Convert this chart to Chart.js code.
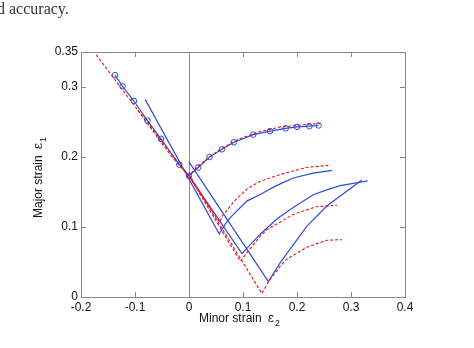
<!DOCTYPE html>
<html>
<head>
<meta charset="utf-8">
<script src="https://cdn.jsdelivr.net/npm/chart.js@4.4.0/dist/chart.umd.min.js"></script>
<style>
body { margin: 0; background: #fff; }
#wrap { position: relative; width: 474px; height: 348px; overflow: hidden; }
#cap { position: absolute; left: -3px; top: 0px; font-family: "Liberation Serif", "DejaVu Serif", serif; font-size: 16px; color: #333; }
</style>
</head>
<body>
<div id="wrap">
  <canvas id="myChart" width="474" height="348"></canvas>
  <div id="cap">d accuracy.</div>
</div>
<script>
// tick labels
var xTicks = [-0.2, -0.1, 0, 0.1, 0.2, 0.3, 0.4];
var yTicks = [0, 0.1, 0.2, 0.3, 0.35];

// measured path with circle markers (blue)
var markX = [-0.137, -0.123, -0.102, -0.077, -0.052, -0.018, 0.0, 0.017, 0.038, 0.061, 0.083, 0.119, 0.150, 0.179, 0.200, 0.223, 0.240];
var markY = [0.317, 0.301, 0.280, 0.252, 0.226, 0.189, 0.173, 0.185, 0.200, 0.211, 0.221, 0.232, 0.237, 0.241, 0.243, 0.244, 0.245];

// blue paths
var blue1X = [-0.081, 0.056, 0.067, 0.076, 0.107, 0.131, 0.159, 0.193, 0.230, 0.265];
var blue1Y = [0.282, 0.090, 0.104, 0.113, 0.137, 0.146, 0.158, 0.170, 0.177, 0.181];
var blue2X = [0.0, 0.098, 0.131, 0.159, 0.169, 0.193, 0.230, 0.255, 0.280, 0.331];
var blue2Y = [0.173, 0.062, 0.089, 0.109, 0.115, 0.128, 0.146, 0.153, 0.159, 0.166];
var blue3X = [0.0, 0.147, 0.169, 0.218, 0.255, 0.292, 0.320];
var blue3Y = [0.193, 0.022, 0.049, 0.101, 0.130, 0.151, 0.167];

// red dashed paths
var red0X = [-0.172, -0.13, -0.09, -0.05, -0.02, 0.0, 0.02, 0.05, 0.09, 0.13, 0.17, 0.21, 0.245];
var red0Y = [0.346, 0.303, 0.262, 0.219, 0.189, 0.174, 0.189, 0.207, 0.225, 0.236, 0.243, 0.246, 0.248];
var red1X = [-0.095, 0.0, 0.057, 0.061, 0.085, 0.107, 0.131, 0.169, 0.193, 0.218, 0.258];
var red1Y = [0.267, 0.172, 0.107, 0.115, 0.138, 0.154, 0.165, 0.175, 0.180, 0.185, 0.188];
var red2X = [0.0, 0.095, 0.107, 0.131, 0.144, 0.193, 0.236, 0.274];
var red2Y = [0.173, 0.051, 0.063, 0.086, 0.096, 0.118, 0.129, 0.131];
var red3X = [0.0, 0.135, 0.147, 0.169, 0.181, 0.218, 0.255, 0.283];
var red3Y = [0.175, 0.005, 0.022, 0.044, 0.054, 0.071, 0.081, 0.082];

var BLUE = 'rgb(45,75,225)';
var RED = 'rgb(230,20,25)';

function pts(xs, ys) {
    return xs.map(function (x, i) { return { x: x, y: ys[i] }; });
}
function redSet(xs, ys) {
    return { data: pts(xs, ys), borderColor: RED, borderWidth: 1.1, borderDash: [3, 2], pointRadius: 0, showLine: true, tension: 0 };
}
function blueSet(xs, ys) {
    return { data: pts(xs, ys), borderColor: BLUE, borderWidth: 1.2, pointRadius: 0, showLine: true, tension: 0 };
}

// box, zero line, inward ticks and axis titles
var framePlugin = {
    id: 'frame',
    beforeDatasetsDraw: function (chart) {
        var c = chart.ctx, a = chart.chartArea;
        var xs = chart.scales.x, ys = chart.scales.y;
        c.save();
        c.strokeStyle = '#888';
        c.lineWidth = 1;
        c.beginPath();
        var zx = Math.round(xs.getPixelForValue(0)) + 0.5;
        c.moveTo(zx, a.top); c.lineTo(zx, a.bottom);
        c.stroke();
        c.strokeRect(Math.round(a.left) + 0.5, Math.round(a.top) + 0.5, Math.round(a.right - a.left), Math.round(a.bottom - a.top));
        c.beginPath();
        xTicks.forEach(function (v) {
            var px = Math.round(xs.getPixelForValue(v)) + 0.5;
            c.moveTo(px, a.bottom); c.lineTo(px, a.bottom - 5);
            c.moveTo(px, a.top); c.lineTo(px, a.top + 5);
        });
        yTicks.forEach(function (v) {
            var py = Math.round(ys.getPixelForValue(v)) + 0.5;
            c.moveTo(a.left, py); c.lineTo(a.left + 5, py);
            c.moveTo(a.right, py); c.lineTo(a.right - 5, py);
        });
        c.stroke();
        c.restore();
    },
    afterDraw: function (chart) {
        var c = chart.ctx;
        function title(x, y, rot, txt, sub) {
            c.save();
            c.translate(x, y);
            c.rotate(rot);
            c.fillStyle = '#111';
            c.textBaseline = 'middle';
            c.textAlign = 'left';
            c.font = '12px "Liberation Sans", Arial, sans-serif';
            c.fillText(txt, 0, 0);
            var w = c.measureText(txt).width + 6;
            c.font = '12px "DejaVu Serif", serif';
            c.fillText('\u03b5', w, 0);
            var w2 = c.measureText('\u03b5').width;
            c.font = '9px "Liberation Sans", Arial, sans-serif';
            c.fillText(sub, w + w2 + 1, 5);
            c.restore();
        }
        title(199, 319, 0, 'Minor strain', '2');
        title(39, 218, -Math.PI / 2, 'Major strain', '1');
    }
};

Chart.defaults.font.family = '"Liberation Sans", Arial, sans-serif';
Chart.defaults.font.size = 12;
Chart.defaults.color = '#111';

var ctx = document.getElementById('myChart').getContext('2d');
var chart = new Chart(ctx, {
    type: 'scatter',
    data: {
        datasets: [
            redSet(red0X, red0Y),
            redSet(red1X, red1Y),
            redSet(red2X, red2Y),
            redSet(red3X, red3Y),
            {
                data: pts(markX, markY), borderColor: BLUE, borderWidth: 1.2, showLine: true, tension: 0,
                pointRadius: 2.8, pointBorderColor: BLUE, pointBackgroundColor: 'rgba(0,0,0,0)', pointBorderWidth: 1
            },
            blueSet(blue1X, blue1Y),
            blueSet(blue2X, blue2Y),
            blueSet(blue3X, blue3Y)
        ]
    },
    options: {
        responsive: false,
        animation: false,
        layout: { padding: { left: 0, top: 52, right: 69, bottom: 0 } },
        plugins: { legend: { display: false }, tooltip: { enabled: false } },
        scales: {
            x: {
                type: 'linear', min: -0.2, max: 0.4,
                grid: { display: false, drawTicks: false }, border: { display: false },
                afterBuildTicks: function (s) { s.ticks = xTicks.map(function (v) { return { value: v }; }); },
                afterFit: function (s) { s.height = 51; },
                ticks: { padding: 3, maxRotation: 0, callback: function (v) { return String(v); } }
            },
            y: {
                type: 'linear', min: 0, max: 0.35,
                grid: { display: false, drawTicks: false }, border: { display: false },
                afterBuildTicks: function (s) { s.ticks = yTicks.map(function (v) { return { value: v }; }); },
                afterFit: function (s) { s.width = 81; },
                ticks: { padding: 3, callback: function (v) { return String(v); } }
            }
        }
    },
    plugins: [framePlugin]
});
</script>
</body>
</html>
